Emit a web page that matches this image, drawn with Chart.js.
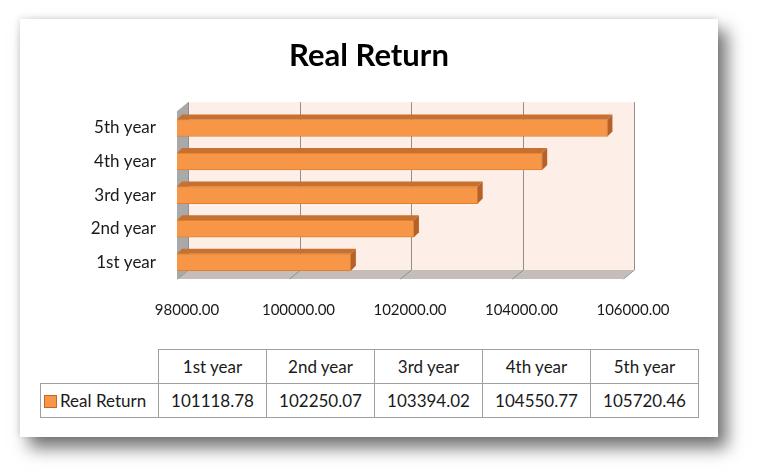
<!DOCTYPE html>
<html>
<head>
<meta charset="utf-8">
<title>Real Return</title>
<script src="https://cdn.jsdelivr.net/npm/chart.js@4/dist/chart.umd.min.js"></script>
<style>
    body { margin: 0; background: #ffffff; width: 768px; height: 472px; overflow: hidden; font-family: Lato, "Open Sans", sans-serif; }
    #card {
        position: absolute; left: 20px; top: 19px; width: 698px; height: 418px;
        background: #ffffff;
        box-shadow: 9px 11px 16px rgba(0, 0, 0, 0.55), -1px -1px 6px rgba(0, 0, 0, 0.12);
    }
    #chart-wrap { position: absolute; left: 0; top: 0; width: 698px; height: 320px; }
    #data-table {
        position: absolute; left: 20px; top: 330px; width: 658px;
        table-layout: fixed; border-collapse: collapse; font-size: 17px; color: #1a1a1a;
    }
    #data-table td { border: 1px solid #a0a0a0; height: 33px; text-align: center; padding: 0; white-space: nowrap; }
    #data-table td.label { text-align: left; padding-left: 3px; }
    #data-table td.blank { border-top: none; border-left: none; }
    .key { display: inline-block; width: 11px; height: 11px; background: #f79646; border: 1px solid #c0682a; vertical-align: -1px; margin-right: 3px; }
</style>
</head>
<body>
<div id="card">
    <div id="chart-wrap"><canvas id="returnChart"></canvas></div>
    <table id="data-table"></table>
</div>
<script>
// Chart data
const categories = ['1st year', '2nd year', '3rd year', '4th year', '5th year'];
const realReturn = [101118.78, 102250.07, 103394.02, 104550.77, 105720.46];
const tickValues = [98000, 100000, 102000, 104000, 106000];
const seriesName = 'Real Return';

// 3D look: depth offset of the back wall and of the bars
const WALL_DX = 11, WALL_DY = -9;
const BAR_D = 5;

const wallsPlugin = {
    id: 'walls',
    beforeDatasetsDraw(chart) {
        const { ctx, chartArea: a, scales } = chart;
        ctx.save();
        // back wall
        ctx.fillStyle = '#fdefe7';
        ctx.fillRect(a.left + WALL_DX, a.top + WALL_DY, a.right - a.left, a.bottom - a.top);
        // left wall
        ctx.fillStyle = '#a9a9a9';
        ctx.beginPath();
        ctx.moveTo(a.left, a.top);
        ctx.lineTo(a.left + WALL_DX, a.top + WALL_DY);
        ctx.lineTo(a.left + WALL_DX, a.bottom + WALL_DY);
        ctx.lineTo(a.left, a.bottom);
        ctx.closePath();
        ctx.fill();
        // floor
        ctx.fillStyle = '#c4bdb9';
        ctx.beginPath();
        ctx.moveTo(a.left, a.bottom);
        ctx.lineTo(a.left + WALL_DX, a.bottom + WALL_DY);
        ctx.lineTo(a.right + WALL_DX, a.bottom + WALL_DY);
        ctx.lineTo(a.right, a.bottom);
        ctx.closePath();
        ctx.fill();
        // grid lines on back wall and floor
        ctx.strokeStyle = '#8f8f8f';
        ctx.lineWidth = 1;
        scales.x.ticks.forEach(t => {
            const px = Math.round(scales.x.getPixelForValue(t.value)) + 0.5;
            ctx.beginPath();
            ctx.moveTo(px + WALL_DX, a.top + WALL_DY);
            ctx.lineTo(px + WALL_DX, a.bottom + WALL_DY);
            ctx.lineTo(px, a.bottom);
            ctx.stroke();
        });
        ctx.restore();
    },
    afterDatasetsDraw(chart) {
        const { ctx, chartArea } = chart;
        const meta = chart.getDatasetMeta(0);
        ctx.save();
        meta.data.forEach(bar => {
            const left = Math.max(bar.base, chartArea.left);
            const top = bar.y - bar.height / 2;
            const bottom = bar.y + bar.height / 2;
            // top face
            ctx.fillStyle = '#c8702f';
            ctx.beginPath();
            ctx.moveTo(left, top);
            ctx.lineTo(left + BAR_D, top - BAR_D);
            ctx.lineTo(bar.x + BAR_D, top - BAR_D);
            ctx.lineTo(bar.x, top);
            ctx.closePath();
            ctx.fill();
            // side face
            ctx.fillStyle = '#b5622a';
            ctx.beginPath();
            ctx.moveTo(bar.x, top);
            ctx.lineTo(bar.x + BAR_D, top - BAR_D);
            ctx.lineTo(bar.x + BAR_D, bottom - BAR_D);
            ctx.lineTo(bar.x, bottom);
            ctx.closePath();
            ctx.fill();
        });
        ctx.restore();
    }
};

const ctx = document.getElementById('returnChart').getContext('2d');
const chart = new Chart(ctx, {
    type: 'bar',
    data: {
        labels: categories,
        datasets: [{
            label: seriesName,
            data: realReturn,
            backgroundColor: '#f79646',
            borderColor: '#e0802f',
            borderWidth: 1,
            barThickness: 17
        }]
    },
    options: {
        indexAxis: 'y',
        responsive: true,
        maintainAspectRatio: false,
        animation: false,
        layout: { padding: 0 },
        scales: {
            x: {
                min: tickValues[0],
                max: tickValues[tickValues.length - 1],
                afterBuildTicks: scale => { scale.ticks = tickValues.map(v => ({ value: v })); },
                afterFit: scale => { scale.height = 60; },
                grid: { display: false, drawTicks: false },
                border: { display: false },
                ticks: {
                    padding: 22,
                    labelOffset: 10,
                    maxRotation: 0,
                    color: '#1a1a1a',
                    font: { family: 'Lato', size: 15 },
                    callback: value => Number(value).toFixed(2)
                }
            },
            y: {
                reverse: true,
                afterFit: scale => { scale.width = 157; },
                grid: { display: false, drawTicks: false },
                border: { display: false },
                ticks: {
                    padding: 21,
                    color: '#1a1a1a',
                    font: { family: 'Lato', size: 17 }
                }
            },
            // empty right-hand axis, keeps room on the right so the title stays centred
            yRight: {
                type: 'category',
                labels: categories,
                position: 'right',
                afterFit: scale => { scale.width = 95; },
                grid: { display: false, drawTicks: false },
                border: { display: false },
                ticks: { display: false }
            }
        },
        plugins: {
            legend: { display: false },
            tooltip: { enabled: false },
            title: {
                display: true,
                text: seriesName,
                color: '#000000',
                font: { family: 'Lato', size: 31, weight: 'bold' },
                padding: { top: 18, bottom: 37 }
            }
        }
    },
    plugins: [wallsPlugin]
});

// Data table under the chart
function buildTable() {
    const table = document.getElementById('data-table');
    let html = '<colgroup><col style="width:118px">';
    categories.forEach(() => { html += '<col style="width:108px">'; });
    html += '</colgroup><tr><td class="label blank"></td>';
    categories.forEach(c => { html += `<td>${c}</td>`; });
    html += '</tr><tr><td class="label"><span class="key"></span>' + seriesName + '</td>';
    realReturn.forEach(v => { html += `<td>${v.toFixed(2)}</td>`; });
    html += '</tr>';
    table.innerHTML = html;
}
buildTable();
</script>
</body>
</html>
